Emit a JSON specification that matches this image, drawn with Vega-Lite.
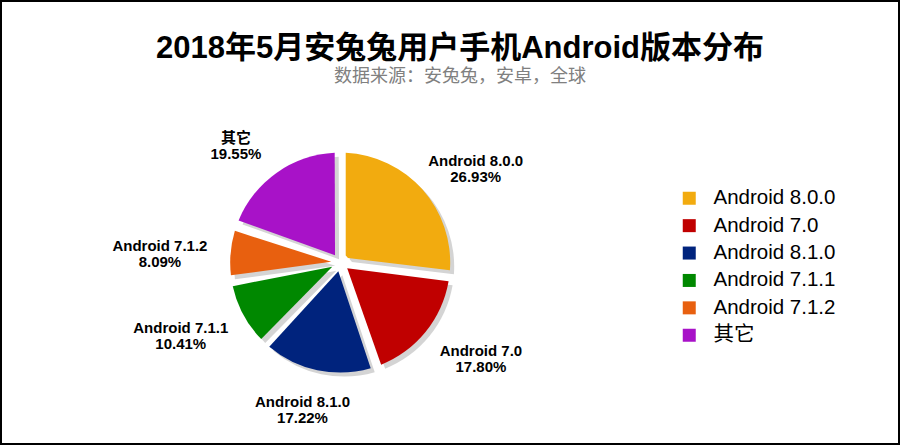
{
  "$schema": "https://vega.github.io/schema/vega-lite/v6.json",
  "width": 900,
  "height": 445,
  "padding": 0,
  "autosize": "none",
  "background": "white",
  "title": {
    "text": "2018年5月安兔兔用户手机Android版本分布",
    "subtitle": "数据来源：安兔兔，安卓，全球",
    "anchor": "middle",
    "frame": "group",
    "orient": "top",
    "offset": -89,
    "dx": 10,
    "font": "Liberation Sans, Noto Sans CJK SC",
    "fontSize": 31,
    "fontWeight": "bold",
    "color": "#000000",
    "subtitleFont": "Liberation Sans, Noto Sans CJK SC",
    "subtitleFontSize": 18,
    "subtitleColor": "#808080",
    "subtitlePadding": 3
  },
  "config": {
    "view": {"stroke": null}
  },
  "data": {
    "values": [
      {"version": "Android 8.0.0", "pct": 26.93, "rank": 1},
      {"version": "Android 7.0", "pct": 17.80, "rank": 2},
      {"version": "Android 8.1.0", "pct": 17.22, "rank": 3},
      {"version": "Android 7.1.1", "pct": 10.41, "rank": 4},
      {"version": "Android 7.1.2", "pct": 8.09, "rank": 5},
      {"version": "其它", "pct": 19.55, "rank": 6}
    ]
  },
  "transform": [
    {"calculate": "[datum.version, format(datum.pct, '.2f') + '%']", "as": "label"}
  ],
  "encoding": {
    "theta": {"field": "pct", "type": "quantitative", "stack": true},
    "order": {"field": "rank", "type": "quantitative"}
  },
  "layer": [
    {
      "data": {"values": [{}]},
      "mark": {"type": "rect", "fillOpacity": 0, "stroke": "#000000", "strokeWidth": 4},
      "encoding": {"theta": null, "order": null}
    },
    {
      "mark": {"type": "arc", "innerRadius": 9, "outerRadius": 110, "padAngle": 0.1, "color": "#d4d4d4",
        "x": {"expr": "width * 0.378"}, "y": {"expr": "height * 0.59"}, "xOffset": 4, "yOffset": 4}
    },
    {
      "mark": {"type": "arc", "innerRadius": 9, "outerRadius": 110, "padAngle": 0.1,
        "x": {"expr": "width * 0.378"}, "y": {"expr": "height * 0.59"}},
      "encoding": {
        "color": {
          "field": "version",
          "type": "nominal",
          "scale": {
            "domain": ["Android 8.0.0", "Android 7.0", "Android 8.1.0", "Android 7.1.1", "Android 7.1.2", "其它"],
            "range": ["#F2AB0F", "#C00000", "#00237D", "#008800", "#E8600F", "#A812C8"]
          },
          "legend": {
            "title": null,
            "orient": "none",
            "legendX": 679,
            "legendY": 188,
            "symbolType": "square",
            "symbolSize": 169,
            "symbolStrokeWidth": 0,
            "labelFont": "Liberation Sans, Noto Sans CJK SC",
            "labelFontSize": 20.5,
            "labelColor": "#000000",
            "labelOffset": 14,
            "rowPadding": 6.4
          }
        }
      }
    },
    {
      "mark": {"type": "text", "radius": 147, "font": "Liberation Sans, Noto Sans CJK SC",
        "fontSize": 15, "fontWeight": "bold", "lineHeight": 16, "color": "#000000",
        "dx": {"expr": "34 * sin(PI * (datum.pct_start + datum.pct_end) / 100)"},
        "dy": -4,
        "x": {"expr": "width * 0.378"}, "y": {"expr": "height * 0.59"}},
      "encoding": {
        "text": {"field": "label"}
      }
    }
  ]
}
